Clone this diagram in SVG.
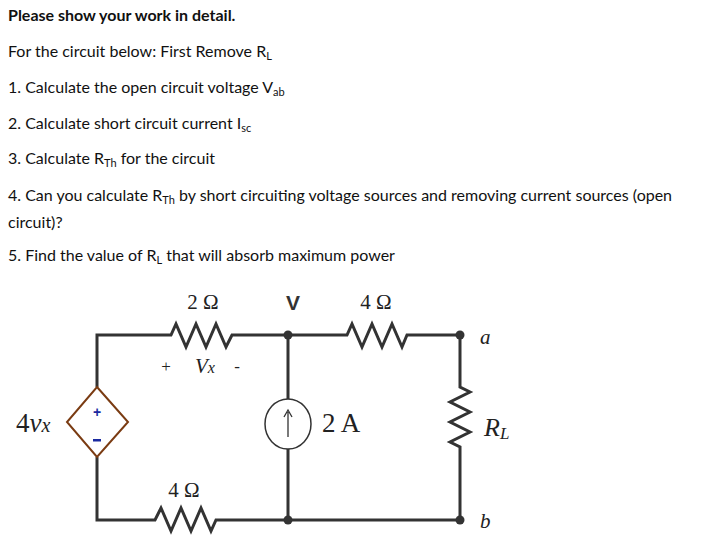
<svg xmlns="http://www.w3.org/2000/svg" width="701" height="556" viewBox="0 0 701 556">
<style>
.t{font-family:Lato,"Liberation Sans",sans-serif;font-size:16px;fill:#111}
.s{font-size:11px}
.w{fill:none;stroke:#333;stroke-width:3;stroke-linejoin:miter}
.c{font-family:"Liberation Serif",serif;fill:#222}
</style>
<rect width="701" height="556" fill="#fff"/>
<g id="text">
<text class="t" x="8" y="21" font-weight="bold">Please show your work in detail.</text>
<text class="t" x="8" y="57">For the circuit below: First Remove R<tspan class="s" dy="3">L</tspan></text>
<text class="t" x="8" y="93">1. Calculate the open circuit voltage V<tspan class="s" dy="3">ab</tspan></text>
<text class="t" x="8" y="129">2. Calculate short circuit current I<tspan class="s" dy="3">sc</tspan></text>
<text class="t" x="8" y="164">3. Calculate R<tspan class="s" dy="3">Th</tspan><tspan dy="-3"> for the circuit</tspan></text>
<text class="t" x="8" y="201">4. Can you calculate R<tspan class="s" dy="3">Th</tspan><tspan dy="-3"> by short circuiting voltage sources and removing current sources (open</tspan></text>
<text class="t" x="8" y="228">circuit)?</text>
<text class="t" x="8" y="261">5. Find the value of R<tspan class="s" dy="3">L</tspan><tspan dy="-3"> that will absorb maximum power</tspan></text>
</g>
<g id="connectors">
<path class="w" d="M97,387 V335 H171 l5,-11 l10,23 l10,-23 l10,23 l10,-23 l10,23 l6,-12 H347 l5,-11 l10,23 l10,-23 l10,23 l10,-23 l10,23 l5,-12 H460 V387 l10,5 l-20,10 l20,10 l-20,10 l20,10 l-20,10 l10,5 V520 H216 l-5,11 l-10,-23 l-10,23 l-10,-23 l-10,23 l-10,-23 l-6,12 H97 V457"/>
<path class="w" d="M288,335 V399 M288,449 V520"/>
</g>
<g id="nodes">
<circle cx="288" cy="335" r="4.5" fill="#333"/>
<circle cx="460" cy="335" r="4.5" fill="#333"/>
<circle cx="288" cy="520" r="4.5" fill="#333"/>
<circle cx="460" cy="520" r="4.5" fill="#333"/>
</g>
<g id="source-dep">
<polygon points="97,387 128,422 97,457 67,422" fill="#fff" stroke="#7a3b12" stroke-width="2"/>
<text x="97" y="417" text-anchor="middle" font-family="Liberation Sans,sans-serif" font-weight="bold" font-size="14" fill="#1a2aa0">+</text>
<rect x="93" y="439" width="8" height="2.5" fill="#1a2aa0"/>
<text class="c" x="16" y="432" font-size="27">4<tspan font-style="italic">v</tspan><tspan font-style="italic" font-size="20">x</tspan></text>
</g>
<g id="source-2A">
<ellipse cx="288" cy="424" rx="23" ry="25" fill="#fff" stroke="#333" stroke-width="1.5"/>
<path d="M288,437 V412 M284,417 L288,410 L292,417" fill="none" stroke="#333" stroke-width="1.3"/>
<text class="c" x="322" y="432" font-size="27">2 A</text>
</g>
<g id="labels">
<text class="c" x="203" y="309" font-size="21" text-anchor="middle">2 Ω</text>
<text x="293" y="310" font-family="Liberation Sans,sans-serif" font-weight="bold" font-size="21" text-anchor="middle" fill="#333">V</text>
<text class="c" x="376" y="309" font-size="21" text-anchor="middle">4 Ω</text>
<text class="c" x="184" y="497" font-size="21" text-anchor="middle">4 Ω</text>
<text class="c" x="480" y="344" font-size="21" font-style="italic">a</text>
<text class="c" x="480" y="528" font-size="21" font-style="italic">b</text>
<text class="c" x="484" y="436" font-size="26" font-style="italic">R<tspan font-size="17" dy="3">L</tspan></text>
<text class="c" x="166" y="372" font-size="17" text-anchor="middle">+</text>
<text class="c" x="205" y="373" font-size="21" font-style="italic" text-anchor="middle">V<tspan font-size="16">x</tspan></text>
<text class="c" x="237" y="372" font-size="17" text-anchor="middle">-</text>
</g>
</svg>
